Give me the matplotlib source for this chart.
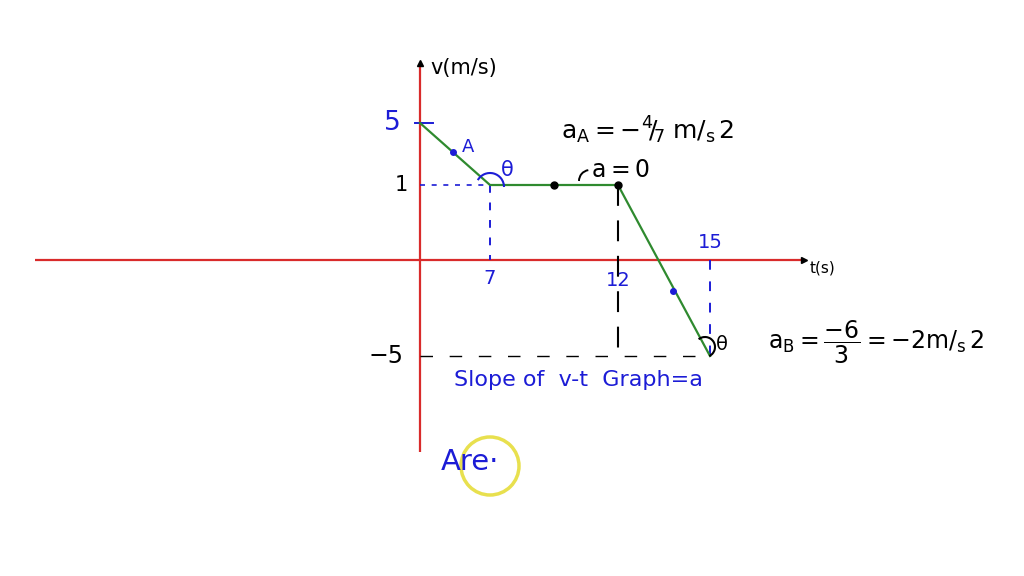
import numpy as np
import matplotlib
matplotlib.use("Agg")
import matplotlib.pyplot as plt
from matplotlib.patches import Arc, Ellipse

# ---------------- data ----------------
t_points = [0, 7, 12, 15]          # s
v_points = [5, 1, 1, -5]           # m/s
t_ticks = [7, 12, 15]
t_tick_labels = ["7", "12", "15"]
v_ticks = [5, 1, -5]
v_tick_labels = ["5", "1", "\u22125"]
black_dot_t = [9.5, 12]
black_dot_v = [1, 1]
blue_dot_t = [3.3, 13.8]
blue_dot_v = [3.1, -1.6]

# ---------------- layout ----------------
W, H = 1024, 576
RED = "#d92b2b"
GREEN = "#2f8a2f"
BLUE = "#1c1cd6"
YELLOW = "#e8e04e"

plt.rcParams["font.family"] = ["DejaVu Sans"]
plt.rcParams["mathtext.fontset"] = "dejavusans"

# hand-drawn sketch: axis spacing is not uniform -> piecewise scale
T_ANCHOR = [-100, 0, 7, 12, 15, 100]
T_PX = [420 - 100 * 20, 420, 490, 618, 710, 710 + 85 * 20.7]
V_ANCHOR = [-100, -5, 0, 1, 5, 100]
V_PX = [H - (356 + 95 * 19.2), H - 356, H - 260, H - 185, H - 123, H - (123 - 95 * 15.5)]


def fwd_t(x):
    return np.interp(x, T_ANCHOR, T_PX)


def inv_t(p):
    return np.interp(p, T_PX, T_ANCHOR)


def fwd_v(y):
    return np.interp(y, V_ANCHOR, V_PX)


def inv_v(p):
    return np.interp(p, V_PX, V_ANCHOR)


def fx(p):
    return p / W


def fy(p):
    return 1 - p / H


fig = plt.figure(figsize=(W / 100, H / 100), dpi=100)
fig.patch.set_facecolor("white")
ax = fig.add_axes([0, 0, 1, 1])
ax.set_xscale("function", functions=(fwd_t, inv_t))
ax.set_yscale("function", functions=(fwd_v, inv_v))
ax.set_xlim(float(inv_t(0)), float(inv_t(W)))
ax.set_ylim(float(inv_v(0)), float(inv_v(H)))
ax.set_axis_off()

xt = ax.get_xaxis_transform()   # x data, y axes
yt = ax.get_yaxis_transform()   # x axes, y data

# red coordinate axes
ax.plot([fx(35), fx(802)], [0, 0], color=RED, lw=1.6, transform=yt, solid_capstyle="butt")
ax.plot([0, 0], [fy(452), fy(64)], color=RED, lw=1.6, transform=xt, solid_capstyle="butt")
ax.plot([fx(804)], [0], marker=">", ms=5, color="black", transform=yt)
ax.plot([0], [fy(63)], marker="^", ms=5, color="black", transform=xt)

# guide lines
ax.plot([t_points[0], t_points[1]], [v_points[1]] * 2, color=BLUE, lw=1.2, ls=(0, (3, 4)))
ax.plot([t_points[1]] * 2, [v_points[1], 0], color=BLUE, lw=1.4, ls=(0, (4, 5)))
ax.plot([t_points[3]] * 2, [0, v_points[3]], color=BLUE, lw=1.4, ls=(0, (5, 6)))
ax.plot([t_points[2]] * 2, [v_points[2], v_points[3]], color="black", lw=1.5, ls=(0, (10, 7)))
ax.plot([t_points[0], t_points[3]], [v_points[3]] * 2, color="black", lw=1.0, ls=(0, (9, 12)))

# small blue tick at v = 5
ax.plot([fx(415), fx(433)], [v_ticks[0]] * 2, color=BLUE, lw=1.4, transform=yt)

# the v-t graph
ax.plot(t_points, v_points, color=GREEN, lw=1.6, zorder=3)
ax.plot(black_dot_t, black_dot_v, "o", color="black", ms=5, zorder=4)
ax.plot(blue_dot_t, blue_dot_v, "o", color=BLUE, ms=4, zorder=4)

# tick labels
v_lab_x = [392, 401, 386]
v_lab_col = [BLUE, "black", "black"]
v_lab_fs = [19, 15, 17]
for v, lab, px, c, fs in zip(v_ticks, v_tick_labels, v_lab_x, v_lab_col, v_lab_fs):
    ax.text(fx(px), v, lab, transform=yt, color=c, fontsize=fs, ha="center", va="center")

t_lab_y = [278, 281, 243]
for t, lab, py in zip(t_ticks, t_tick_labels, t_lab_y):
    ax.text(t, fy(py), lab, transform=xt, color=BLUE, fontsize=14, ha="center", va="center")

# axis titles
fig.text(fx(464), fy(68), "v(m/s)", fontsize=15, ha="center", va="center")
fig.text(fx(823), fy(268), "t(s)", fontsize=11, ha="center", va="center")

# point labels and angles
fig.text(fx(468), fy(147), "A", color=BLUE, fontsize=13, ha="center", va="center")
fig.text(fx(507), fy(170), "\u03b8", color=BLUE, fontsize=15, ha="center", va="center")
fig.text(fx(722), fy(345), "\u03b8", color="black", fontsize=14, ha="center", va="center")

ftrans_inv = fig.transFigure.inverted()


def vertex_arc(t, v, dx, dy, r, th1, th2, color):
    disp = ax.transData.transform((t, v))
    cx, cy = ftrans_inv.transform(disp + np.array([dx, -dy]))
    fig.add_artist(Arc((cx, cy), 2 * r / W, 2 * r / H, theta1=th1, theta2=th2,
                       transform=fig.transFigure, color=color, lw=1.5))


vertex_arc(t_points[1], v_points[1], 0, 2, 14, 0, 135, BLUE)
vertex_arc(t_points[3], v_points[3], -5, -9, 10, -75, 115, "black")

# annotations
fig.text(fx(648), fy(130),
         r"$\mathrm{a}_{\mathrm{A}}=-{}^{4}\!/\!_{7}\;\mathrm{m}/_{\mathrm{s}}\,\mathrm{2}$",
         fontsize=18, ha="center", va="center")
fig.text(fx(620), fy(170), r"$\mathrm{a}=0$", fontsize=17, ha="center", va="center")
fig.add_artist(Arc((fx(590), fy(181)), 22 / W, 22 / H, theta1=95, theta2=180,
                   transform=fig.transFigure, color="black", lw=1.4))
fig.text(fx(876), fy(342),
         r"$\mathrm{a}_{\mathrm{B}}=\dfrac{-6}{3}=-2\mathrm{m}/_{\mathrm{s}}\,\mathrm{2}$",
         fontsize=17, ha="center", va="center")
fig.text(fx(578), fy(380), "Slope of  v-t  Graph=a", color=BLUE, fontsize=16,
         ha="center", va="center")
fig.text(fx(470), fy(462), "Are\u00b7", color=BLUE, fontsize=21, ha="center", va="center")
fig.add_artist(Ellipse((fx(490), fy(466)), 58 / W, 58 / H, transform=fig.transFigure,
                       fill=False, ec=YELLOW, lw=2.5))

fig.savefig("out.png", dpi=100, facecolor="white")
